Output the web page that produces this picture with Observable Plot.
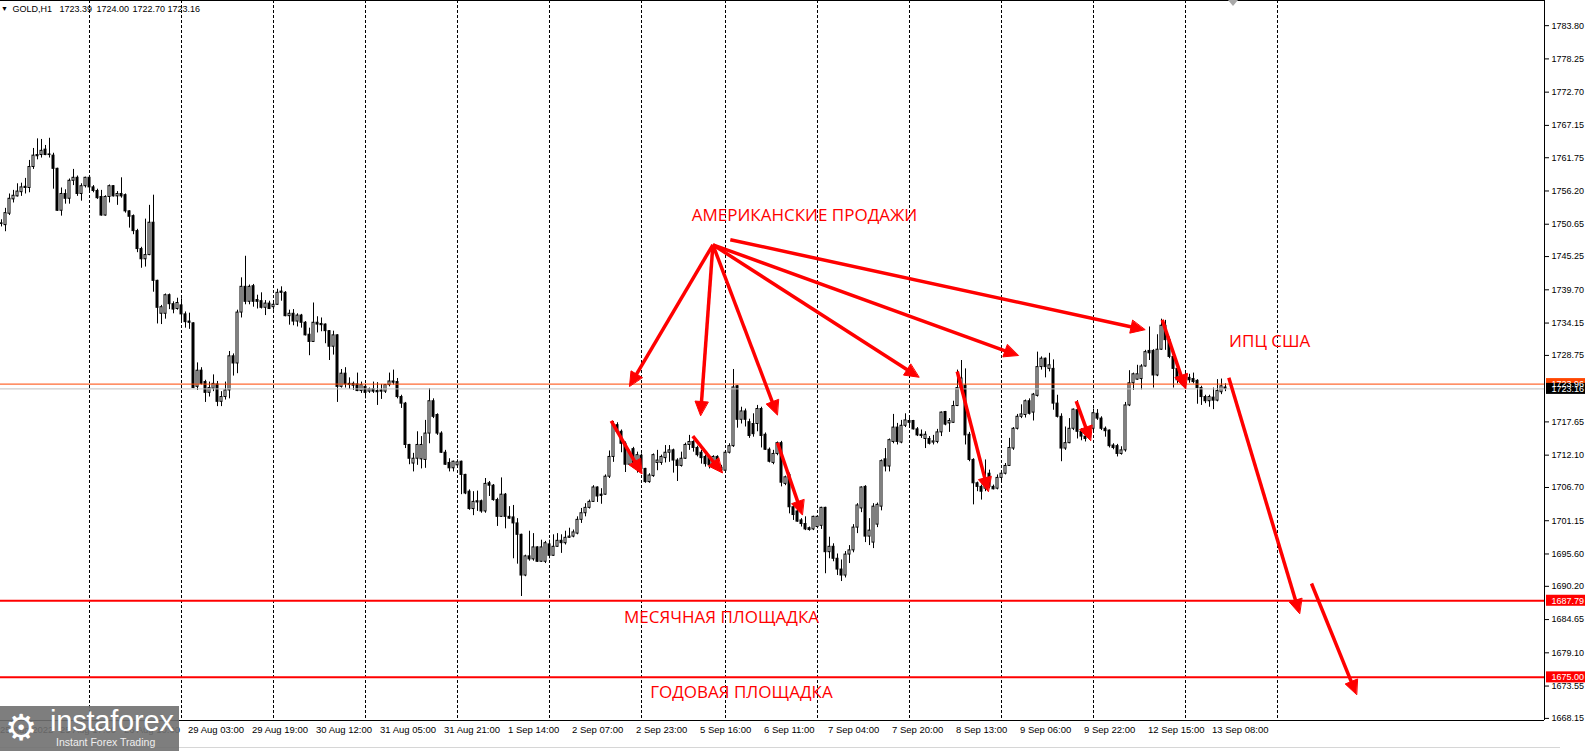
<!DOCTYPE html>
<html>
<head>
<meta charset="utf-8">
<script src="https://cdn.jsdelivr.net/npm/d3@7"></script>
<script src="https://cdn.jsdelivr.net/npm/@observablehq/plot@0.6"></script>
<style>
  html, body { margin: 0; padding: 0; background: #fff; }
  #wrap { position: relative; width: 1596px; height: 751px; overflow: hidden; background: #fff; }
  #wrap svg { display: block; }
  #logo { position: absolute; left: 0; top: 706px; width: 179px; height: 45px; background: rgba(112,112,112,0.9); color: #fff; font-family: "Liberation Sans", Arial, sans-serif; overflow: hidden; }
  #logo .gear { position: absolute; left: 5px; top: 2px; font-family: "DejaVu Sans", sans-serif; font-size: 36px; line-height: 40px; }
  #logo .brand { position: absolute; left: 50px; top: -3px; font-size: 29px; line-height: 36px; letter-spacing: -0.2px; }
  #logo .tag { position: absolute; left: 56px; top: 30px; font-size: 10.5px; line-height: 13px; color: #eee; }
  #strip { position: absolute; left: 0; top: 747px; width: 1560px; height: 1px; background: #d6d6d6; }
  #shift { position: absolute; left: 1228px; top: 0; width: 0; height: 0; border-left: 5px solid transparent; border-right: 5px solid transparent; border-top: 6px solid #a8a8a8; }
</style>
</head>
<body>
<div id="wrap"></div>
<script>
// ---------- DATA ----------
const symbolName = "GOLD,H1";

// hourly bars, index 0 = 25 Aug 2022 02:00
const open = [
1750.7,1750.5,1752.4,1754.8,1755.3,1756.0,1756.9,1756.7,1760.2,1762.2,
1762.2,1763.1,1762.3,1762.1,1759.9,1752.9,1755.7,1754.9,1757.9,1758.4,
1755.7,1757.0,1758.4,1756.8,1756.2,1755.2,1752.1,1755.2,1757.0,1755.3,
1755.7,1755.5,1752.8,1752.0,1749.5,1746.5,1744.8,1745.5,1750.9,1741.2,
1735.7,1735.7,1738.8,1737.3,1736.5,1737.1,1735.6,1734.4,1734.1,1723.5,
1726.2,1724.3,1722.5,1723.2,1723.9,1721.0,1721.8,1722.9,1728.6,1727.4,
1735.9,1740.2,1737.7,1740.3,1738.0,1737.8,1736.7,1737.4,1736.8,1737.2,
1739.4,1739.2,1735.3,1735.7,1734.4,1735.4,1734.2,1732.2,1731.0,1734.2,
1734.0,1733.9,1732.8,1730.2,1732.1,1723.5,1725.7,1724.0,1724.0,1723.9,
1722.8,1723.5,1722.7,1723.1,1722.8,1722.9,1722.7,1723.8,1724.4,1724.3,
1721.8,1720.7,1713.8,1710.7,1711.5,1711.4,1711.3,1715.7,1721.1,1718.8,
1715.7,1712.5,1710.8,1709.9,1710.4,1711.0,1708.8,1706.0,1703.1,1704.4,
1704.4,1702.7,1707.4,1707.0,1704.6,1701.8,1705.5,1701.8,1701.7,1700.7,
1698.8,1692.0,1695.2,1694.7,1696.7,1694.3,1694.3,1697.2,1695.3,1696.8,
1697.8,1697.4,1698.3,1698.5,1699.0,1701.3,1702.4,1703.3,1704.3,1706.7,
1705.5,1705.5,1708.5,1711.8,1717.1,1716.0,1714.0,1710.5,1713.1,1709.8,
1712.0,1709.8,1707.6,1708.6,1710.8,1710.8,1711.6,1712.5,1712.9,1711.2,
1710.3,1711.5,1713.8,1714.3,1713.3,1712.5,1711.8,1711.6,1710.4,1711.8,
1710.0,1709.5,1712.5,1713.6,1723.6,1718.0,1719.4,1717.6,1717.3,1717.3,
1719.8,1715.5,1713.0,1710.8,1712.3,1714.1,1707.3,1708.8,1703.4,1702.7,
1701.2,1700.6,1699.9,1699.7,1700.1,1700.3,1703.3,1695.9,1696.8,1694.8,
1693.0,1692.0,1695.5,1696.2,1700.0,1703.2,1706.8,1698.5,1697.5,1700.5,
1703.5,1711.4,1710.2,1714.3,1716.7,1714.2,1717.0,1717.8,1717.8,1716.4,
1715.5,1714.8,1714.8,1714.2,1714.3,1715.9,1719.3,1717.4,1717.5,1720.3,
1723.3,1723.7,1715.5,1711.3,1707.4,1706.8,1706.5,1709.0,1706.8,1706.5,
1708.3,1709.0,1710.3,1713.2,1716.5,1718.5,1718.8,1721.1,1719.2,1722.0,
1726.8,1728.2,1726.5,1726.5,1720.7,1718.5,1713.2,1714.1,1716.5,1719.6,
1716.0,1715.2,1715.0,1716.5,1719.0,1718.2,1716.5,1716.2,1713.7,1713.6,
1712.3,1712.9,1720.4,1724.1,1724.7,1724.8,1726.9,1729.5,1729.5,1725.4,
1729.7,1733.7,1731.3,1728.5,1726.5,1724.7,1724.7,1725.0,1724.8,1724.5,
1723.3,1721.8,1721.1,1721.7,1721.2,1722.6,1723.39
];
const high = [
1751.4,1753.3,1755.7,1756.3,1757.4,1757.5,1758.3,1761.3,1763.3,1764.9,
1764.8,1763.8,1765.0,1762.5,1760.0,1756.7,1756.4,1758.2,1759.8,1758.7,
1757.4,1758.5,1758.8,1757.1,1756.5,1756.3,1755.4,1757.2,1757.1,1756.1,
1758.4,1755.7,1752.9,1752.2,1749.8,1746.8,1751.5,1753.8,1755.5,1741.3,
1737.1,1739.0,1739.0,1737.7,1738.3,1738.2,1736.0,1735.8,1734.2,1727.5,
1726.7,1724.6,1724.3,1725.5,1724.4,1722.7,1724.3,1729.4,1729.0,1736.3,
1741.7,1745.3,1740.5,1740.6,1738.8,1739.2,1737.9,1737.8,1737.7,1739.8,
1740.2,1739.4,1736.3,1736.4,1735.7,1735.6,1734.4,1733.3,1737.5,1735.2,
1735.0,1734.0,1732.9,1732.8,1732.2,1726.4,1726.7,1725.0,1724.3,1725.8,
1724.3,1723.9,1723.3,1724.3,1724.2,1723.9,1723.9,1725.8,1726.3,1724.9,
1722.1,1720.9,1713.9,1712.4,1716.0,1715.2,1717.9,1723.2,1721.5,1719.0,
1716.0,1712.9,1711.5,1711.1,1711.3,1711.1,1708.9,1706.3,1706.0,1706.1,
1704.6,1708.2,1707.7,1707.2,1704.9,1708.3,1705.7,1703.5,1703.7,1701.5,
1698.9,1695.4,1699.4,1699.0,1696.8,1697.9,1697.7,1697.9,1698.8,1699.0,
1698.8,1699.4,1699.9,1699.6,1701.8,1703.2,1704.0,1704.6,1707.0,1706.8,
1706.5,1708.8,1712.8,1717.7,1717.5,1716.3,1714.3,1712.9,1713.4,1712.6,
1712.3,1709.9,1709.0,1712.3,1712.9,1712.1,1713.7,1713.7,1713.1,1711.5,
1712.6,1714.1,1715.4,1714.5,1713.6,1712.9,1712.1,1711.9,1712.0,1712.0,
1710.4,1712.7,1714.0,1726.4,1723.7,1720.1,1719.8,1718.1,1719.0,1720.4,
1720.1,1715.8,1713.3,1712.9,1714.3,1714.4,1708.6,1709.1,1703.7,1703.0,
1701.5,1701.8,1700.1,1701.9,1701.9,1703.4,1703.4,1698.4,1697.3,1695.6,
1694.6,1696.0,1697.0,1700.5,1704.0,1706.8,1707.0,1701.5,1704.0,1704.1,
1711.3,1713.2,1714.8,1718.9,1717.4,1717.9,1719.0,1718.5,1717.9,1716.7,
1716.3,1716.0,1715.2,1715.4,1716.4,1719.3,1719.4,1718.2,1721.1,1726.3,
1727.9,1726.5,1715.9,1711.5,1707.6,1707.1,1711.3,1709.6,1707.1,1708.8,
1709.3,1710.7,1714.9,1716.7,1718.9,1720.5,1721.3,1721.5,1722.4,1729.3,
1728.5,1728.3,1729.1,1728.0,1722.1,1719.0,1716.8,1718.2,1719.8,1721.2,
1716.5,1715.8,1716.2,1719.8,1719.7,1718.5,1716.8,1716.3,1714.0,1713.9,
1713.5,1720.9,1726.2,1725.8,1727.1,1727.2,1729.6,1733.5,1729.7,1732.2,
1734.8,1734.6,1731.8,1728.7,1726.9,1725.7,1725.9,1725.6,1725.8,1724.7,
1723.6,1722.1,1722.1,1723.3,1724.7,1724.8,1724.00
];
const low = [
1750.2,1749.4,1752.1,1754.2,1755.2,1755.3,1755.7,1755.9,1759.8,1761.4,
1761.7,1762.1,1761.7,1756.5,1752.8,1752.0,1754.0,1754.0,1757.1,1755.3,
1754.5,1756.7,1756.0,1755.9,1754.8,1752.0,1752.0,1754.2,1755.2,1753.8,
1755.0,1752.5,1750.0,1748.9,1745.9,1743.3,1743.5,1745.4,1739.3,1734.0,
1733.9,1734.8,1736.4,1735.7,1736.3,1734.3,1733.3,1733.1,1723.2,1722.9,
1723.8,1720.9,1721.8,1722.7,1720.2,1720.2,1721.3,1721.5,1725.3,1725.7,
1735.0,1737.2,1737.2,1736.8,1736.5,1736.5,1735.4,1736.4,1736.3,1737.1,
1737.8,1735.2,1733.8,1733.7,1733.5,1733.3,1732.0,1728.7,1730.9,1732.5,
1732.7,1730.7,1727.9,1728.8,1720.9,1723.3,1723.3,1723.1,1722.9,1722.7,
1722.4,1721.5,1722.4,1722.4,1720.4,1721.4,1722.4,1723.5,1723.8,1721.5,
1719.9,1713.2,1710.5,1709.3,1710.4,1709.8,1709.9,1714.0,1718.2,1715.4,
1712.4,1710.4,1709.3,1709.3,1710.2,1705.5,1705.5,1702.9,1702.0,1702.7,
1702.4,1702.4,1705.2,1704.4,1700.2,1701.7,1699.8,1701.4,1694.8,1693.9,
1688.5,1691.8,1694.4,1694.4,1694.2,1694.2,1694.0,1694.8,1695.2,1696.7,
1695.7,1697.1,1698.2,1698.3,1698.8,1700.7,1701.8,1703.1,1704.2,1704.2,
1703.9,1705.4,1708.2,1710.9,1715.7,1712.5,1709.2,1710.4,1709.9,1709.1,
1709.3,1707.4,1707.4,1708.4,1709.5,1710.4,1710.8,1710.9,1709.1,1707.7,
1710.1,1711.4,1712.9,1712.6,1711.8,1710.6,1710.1,1709.8,1710.1,1709.5,
1709.3,1709.4,1712.3,1713.4,1716.6,1717.3,1716.8,1714.9,1715.1,1716.0,
1713.3,1712.9,1710.8,1710.5,1712.0,1706.8,1707.0,1702.3,1701.2,1700.9,
1700.1,1699.5,1699.4,1699.5,1699.8,1699.7,1692.3,1694.8,1694.3,1692.0,
1691.0,1691.6,1694.0,1695.8,1699.0,1702.5,1697.5,1697.0,1696.5,1700.0,
1702.8,1709.3,1709.3,1714.0,1713.8,1714.0,1716.7,1716.8,1716.3,1715.2,
1714.9,1713.2,1713.8,1713.8,1714.0,1715.2,1717.0,1715.9,1717.4,1720.2,
1723.2,1713.8,1711.0,1703.8,1706.0,1704.6,1706.0,1706.5,1706.3,1706.3,
1707.7,1708.8,1710.2,1712.9,1716.3,1718.2,1718.3,1718.8,1717.8,1721.8,
1726.3,1725.0,1726.0,1719.6,1718.3,1711.0,1712.9,1714.0,1716.2,1714.8,
1714.5,1714.3,1714.6,1716.2,1717.9,1716.2,1715.1,1713.3,1713.0,1711.8,
1712.1,1712.6,1720.2,1722.9,1724.6,1723.0,1726.8,1727.9,1723.3,1725.2,
1729.6,1729.6,1728.2,1723.3,1724.0,1723.7,1724.3,1724.1,1724.0,1720.6,
1720.4,1720.7,1720.1,1719.7,1721.0,1722.2,1722.70
];
const close = [
1750.8,1752.5,1754.9,1755.4,1756.1,1756.8,1756.7,1760.2,1762.1,1762.0,
1762.9,1762.2,1762.2,1759.9,1752.9,1755.7,1754.9,1757.9,1758.4,1755.7,
1757.0,1758.4,1756.8,1756.2,1755.0,1752.1,1755.2,1757.0,1755.3,1755.7,
1755.3,1752.8,1751.9,1749.5,1746.5,1744.8,1745.5,1750.9,1741.2,1736.7,
1736.8,1738.8,1737.3,1736.4,1737.5,1735.6,1734.3,1734.2,1723.3,1726.2,
1724.0,1722.5,1723.3,1724.0,1721.0,1721.8,1722.9,1728.6,1727.4,1735.9,
1740.2,1737.7,1740.2,1737.7,1737.7,1736.7,1737.4,1736.5,1737.2,1739.2,
1739.2,1735.3,1735.7,1734.4,1735.4,1734.2,1732.1,1731.0,1734.2,1733.9,
1733.8,1732.8,1730.2,1732.1,1723.5,1725.7,1723.9,1723.8,1723.7,1722.8,
1723.8,1722.5,1723.1,1722.7,1722.6,1722.7,1723.8,1724.4,1724.2,1721.8,
1720.7,1713.8,1711.5,1711.5,1713.8,1713.8,1715.7,1721.1,1718.5,1715.7,
1712.5,1710.5,1709.9,1711.0,1710.9,1708.8,1705.7,1703.1,1704.3,1704.2,
1702.7,1707.3,1707.0,1704.6,1701.8,1705.5,1701.8,1701.5,1700.7,1698.8,
1692.0,1695.2,1694.7,1696.7,1694.3,1696.7,1697.4,1695.3,1696.8,1697.8,
1697.4,1698.3,1698.5,1699.2,1701.3,1702.4,1703.3,1704.3,1706.7,1705.2,
1705.3,1708.5,1711.8,1717.1,1716.0,1714.0,1710.5,1712.5,1710.8,1712.1,
1709.8,1707.6,1708.7,1712.1,1711.2,1711.8,1712.5,1712.9,1711.2,1710.3,
1711.5,1713.8,1714.3,1713.3,1712.1,1711.6,1710.6,1710.4,1711.8,1709.9,
1709.6,1712.5,1713.6,1723.4,1718.0,1719.4,1718.0,1715.3,1715.6,1719.8,
1715.3,1713.0,1711.0,1712.3,1714.1,1707.5,1708.4,1703.4,1702.1,1701.0,
1700.6,1699.7,1699.6,1701.8,1701.8,1703.3,1695.9,1696.8,1694.8,1693.0,
1692.0,1695.5,1696.2,1700.0,1703.7,1706.7,1698.5,1699.5,1703.5,1703.8,
1711.1,1710.2,1714.6,1716.7,1714.3,1717.0,1717.9,1717.5,1716.4,1715.4,
1715.3,1715.5,1714.0,1714.4,1715.9,1719.2,1717.2,1717.8,1720.3,1723.3,
1724.9,1715.4,1711.3,1707.4,1706.8,1706.0,1707.7,1706.8,1706.4,1708.3,
1709.0,1710.3,1713.3,1716.5,1718.5,1718.9,1721.1,1719.0,1722.2,1726.8,
1728.2,1726.8,1727.1,1720.7,1718.5,1713.2,1714.1,1716.5,1719.7,1716.0,
1715.2,1714.8,1716.0,1719.1,1718.2,1716.5,1716.1,1713.6,1713.3,1712.3,
1712.9,1720.4,1724.1,1725.6,1725.6,1726.9,1729.3,1729.1,1725.4,1729.7,
1733.7,1731.3,1728.5,1726.5,1724.6,1725.2,1725.2,1724.6,1724.3,1723.3,
1721.8,1721.1,1721.8,1721.2,1722.8,1723.6,1723.16
];

// day separators (bar index of first bar of each trading day)
const separatorBars = [22, 45, 68, 91, 114, 137, 160, 181, 204, 227, 250, 273, 296, 319];

// time-axis labels
const timeLabelBars = [0, 15, 31, 47, 63, 79, 95, 111, 127, 143, 159, 175, 191, 207, 223, 239, 255, 271, 287, 303];
const timeLabels = ["25 Aug 2022", "25 Aug 17:00", "26 Aug 10:00", "29 Aug 03:00", "29 Aug 19:00", "30 Aug 12:00",
  "31 Aug 05:00", "31 Aug 21:00", "1 Sep 14:00", "2 Sep 07:00", "2 Sep 23:00", "5 Sep 16:00", "6 Sep 11:00",
  "7 Sep 04:00", "7 Sep 20:00", "8 Sep 13:00", "9 Sep 06:00", "9 Sep 22:00", "12 Sep 15:00", "13 Sep 08:00"];

// price-axis ticks
const priceTicks = [1783.80, 1778.25, 1772.70, 1767.15, 1761.75, 1756.20, 1750.65, 1745.25, 1739.70, 1734.15,
  1728.75, 1717.65, 1712.10, 1706.70, 1701.15, 1695.60, 1690.20, 1684.65, 1679.10, 1673.55, 1668.15];

// horizontal levels
const levelPrices = [1687.79, 1675.00];
const askPrice = 1723.96;

// arrows (from bar/price -> to bar/price)
const arrowFromBar   = [177.85, 177.85, 177.85, 177.85, 177.85, 182.2, 152.43, 172.83, 194.0, 238.93, 268.68, 290.18, 306.83, 327.5];
const arrowFromPrice = [1747.22, 1747.22, 1747.22, 1747.22, 1747.22, 1748.07, 1717.83, 1715.26, 1714.16, 1726.06, 1721.11, 1734.69, 1725.01, 1690.67];
const arrowToBar     = [157.0, 174.75, 193.93, 229.33, 254.18, 285.83, 160.05, 180.18, 200.18, 246.68, 272.25, 296.0, 324.5, 338.75];
const arrowToPrice   = [1723.61, 1718.72, 1718.83, 1725.11, 1728.73, 1733.03, 1708.99, 1709.15, 1702.14, 1706.03, 1714.55, 1723.18, 1685.66, 1672.14];

// text annotations
const noteTexts  = ["АМЕРИКАНСКИЕ ПРОДАЖИ", "МЕСЯЧНАЯ ПЛОЩАДКА", "ГОДОВАЯ ПЛОЩАДКА"];
const noteBars   = [200.75, 180.0, 184.97];
const notePrices = [1752.11, 1684.91, 1672.47];
const cpiText = "ИПЦ США";
const cpiBar = 306.9;
const cpiPrice = 1730.99;

// ---------- LAYOUT ----------
const W = 1596, H = 751, MR = 52, MB = 31, MT = 0, ML = 0;
const xDomain = [-0.25, 385.75];
const yDomain = [1667.8, 1788.0];
const xS = d3.scaleLinear().domain(xDomain).range([ML, W - MR]);
const yS = d3.scaleLinear().domain(yDomain).range([H - MB, MT]);

const bars = open.map((o, i) => ({i, o, h: high[i], l: low[i], c: close[i]}));
const upBars = bars.filter(d => d.c >= d.o);
const dnBars = bars.filter(d => d.c < d.o);
const last = bars[bars.length - 1];
const bidPrice = last.c;

// arrow geometry (shaft + filled head) computed in pixel space, mapped back to data
const shafts = [], heads = [];
arrowFromBar.forEach((_, k) => {
  const sx = xS(arrowFromBar[k]), sy = yS(arrowFromPrice[k]);
  const tx = xS(arrowToBar[k]), ty = yS(arrowToPrice[k]);
  const len = Math.hypot(tx - sx, ty - sy);
  const ux = (tx - sx) / len, uy = (ty - sy) / len;
  const L = 14, HW = 6.5;
  const bx = tx - ux * L, by = ty - uy * L;
  const nx = -uy, ny = ux;
  shafts.push({x1: arrowFromBar[k], y1: arrowFromPrice[k], x2: xS.invert(bx + ux * 3), y2: yS.invert(by + uy * 3)});
  heads.push({id: k, x: arrowToBar[k], y: arrowToPrice[k]});
  heads.push({id: k, x: xS.invert(bx + nx * HW), y: yS.invert(by + ny * HW)});
  heads.push({id: k, x: xS.invert(bx - nx * HW), y: yS.invert(by - ny * HW)});
});

const notes = noteTexts.map((t, i) => ({t, x: noteBars[i], y: notePrices[i]}));

// right-hand price boxes
const xEnd = xDomain[1];
const boxes = [
  {p: askPrice, fill: "#ff4500"},
  {p: bidPrice, fill: "#000000"},
  {p: levelPrices[0], fill: "#ff0000"},
  {p: levelPrices[1], fill: "#ff0000"}
];

const headerItems = [symbolName, last.o.toFixed(2), last.h.toFixed(2), last.l.toFixed(2), last.c.toFixed(2)];
const headerOffsets = [12, 59, 96, 132, 167];

const marks = [
  Plot.ruleX(separatorBars, {x: d => d, stroke: "#000", strokeWidth: 1, strokeDasharray: "3,2"}),
  // candles
  Plot.ruleX(bars, {x: "i", y1: "l", y2: "h", stroke: "#000", strokeWidth: 1}),
  Plot.rect(upBars, {x1: d => d.i - 0.25, x2: d => d.i + 0.25, y1: "o", y2: "c", fill: "#fff", stroke: "#000", strokeWidth: 1}),
  Plot.rect(dnBars, {x1: d => d.i - 0.25, x2: d => d.i + 0.25, y1: "o", y2: "c", fill: "#000", stroke: "#000", strokeWidth: 1}),
  // bid / ask
  Plot.ruleY([bidPrice], {y: d => d, stroke: "#c0c0c0", strokeWidth: 1}),
  Plot.ruleY([askPrice], {y: d => d, stroke: "#ff4500", strokeWidth: 1}),
  // levels
  Plot.ruleY(levelPrices, {y: d => d, stroke: "#ff0000", strokeWidth: 2}),
  // frame
  Plot.ruleY([yDomain[1]], {y: d => d, stroke: "#000", strokeWidth: 1}),
  Plot.ruleY([yDomain[0]], {y: d => d, stroke: "#000", strokeWidth: 1}),
  Plot.ruleX([xDomain[1]], {x: d => d, stroke: "#000", strokeWidth: 1}),
  // arrows
  Plot.link(shafts, {x1: "x1", y1: "y1", x2: "x2", y2: "y2", stroke: "#ff0000", strokeWidth: 3.5, strokeLinecap: "butt"}),
  Plot.line(heads, {x: "x", y: "y", z: "id", curve: "linear-closed", fill: "#ff0000", stroke: "#ff0000", strokeWidth: 1}),
  // annotations
  Plot.text(notes, {x: "x", y: "y", text: "t", fill: "#ff0000", fontSize: 17, fontFamily: "Open Sans", textAnchor: "middle", lineAnchor: "middle"}),
  Plot.text([cpiText], {x: () => cpiBar, y: () => cpiPrice, text: d => d, fill: "#ff0000", fontSize: 17, fontFamily: "Open Sans", textAnchor: "start", lineAnchor: "middle"}),
  // price boxes on the axis
  Plot.rect(boxes, {x1: () => xEnd + 0.5, x2: () => xEnd + 10.25, y1: d => d.p - 0.92, y2: d => d.p + 0.92, fill: d => d.fill}),
  Plot.text(boxes, {x: () => xEnd + 1.75, y: "p", text: d => d.p.toFixed(2), fill: "#fff", fontSize: 9, textAnchor: "start", lineAnchor: "middle"}),
  // time labels
  Plot.text(timeLabelBars, {x: d => d, text: (d, i) => timeLabels[i], frameAnchor: "bottom", dy: 9, dx: -1.5, textAnchor: "start", lineAnchor: "middle", fontSize: 9.5, fill: "#000"}),
  // header
  Plot.text(["▼"], {text: d => d, frameAnchor: "top-left", dx: 4, dy: 8, textAnchor: "middle", lineAnchor: "middle", fontSize: 7, fill: "#000"})
];
headerItems.forEach((t, k) => {
  marks.push(Plot.text([t], {text: d => d, frameAnchor: "top-left", dx: headerOffsets[k], dy: 8.5, textAnchor: "start", lineAnchor: "middle", fontSize: 9, fill: "#000"}));
});

const chart = Plot.plot({
  width: W, height: H,
  marginLeft: ML, marginRight: MR, marginTop: MT, marginBottom: MB,
  style: {fontFamily: "Liberation Sans, Arial, sans-serif", fontSize: "9px", background: "#fff", color: "#000", overflow: "visible"},
  x: {domain: xDomain, axis: null},
  y: {domain: yDomain, axis: "right", ticks: priceTicks, tickFormat: d => d.toFixed(2), tickSize: 4, tickPadding: 3, label: null},
  marks
});

const wrap = document.getElementById("wrap");
wrap.appendChild(chart);
wrap.insertAdjacentHTML("beforeend",
  '<div id="strip"></div><div id="shift"></div>' +
  '<div id="logo"><span class="gear">⚙</span><span class="brand">instaforex</span><span class="tag">Instant Forex Trading</span></div>');
</script>
</body>
</html>
